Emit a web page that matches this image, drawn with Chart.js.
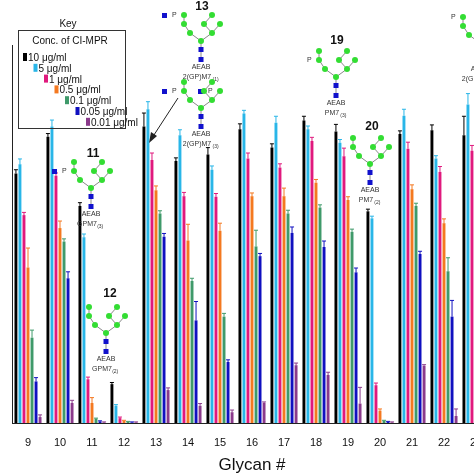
<!DOCTYPE html>
<html><head><meta charset="utf-8">
<script src="https://cdn.jsdelivr.net/npm/chart.js@4"></script>
<style>html,body{margin:0;padding:0;overflow:hidden;background:#fff}#w{width:492px;height:474px;position:relative}</style>
</head><body><div id="w"><canvas id="c"></canvas></div>
<script>
const categories = ['9','10','11','12','13','14','15','16','17','18','19','20','21','22','23'];
const seriesNames = ['10 μg/ml','5 μg/ml','1 μg/ml','0.5 μg/ml','0.1 μg/ml','0.05 μg/ml','0.01 μg/ml'];
const colors = ['#000000','#29b6e8','#e0197d','#f47920','#3f9a6a','#1010c0','#8b3a8b'];
const s10   = [4.62,5.30,4.02,0.72,5.49,4.85,4.97,5.44,5.10,5.60,5.40,3.92,5.35,5.42,5.33];
const s5    = [4.79,5.49,3.44,0.32,5.81,5.33,4.69,5.73,5.56,5.44,5.19,3.79,5.69,4.90,5.90];
const s1    = [3.85,4.58,0.81,0.09,4.87,4.20,4.19,4.90,4.73,5.22,4.94,0.70,5.08,4.65,5.04];
const s05   = [2.88,3.61,0.37,0.04,4.31,3.38,3.56,4.20,4.20,4.45,4.13,0.23,4.33,3.70,4.40];
const s01   = [1.58,3.36,0.08,0.02,3.88,2.63,1.97,3.27,3.88,3.99,3.54,0.04,4.02,2.81,3.90];
const s005  = [0.77,2.68,0.03,0.01,3.45,1.90,1.13,3.09,3.52,3.26,2.79,0.02,3.13,1.97,3.30];
const s001  = [0.11,0.37,0.01,0.01,0.61,0.32,0.20,0.37,1.07,0.89,0.36,0.01,1.06,0.13,0.90];
const e10   = [0.07,0.06,0.06,0.03,0.25,0.06,0.13,0.10,0.07,0.08,0.13,0.04,0.06,0.10,0.35];
const e5    = [0.10,0.12,0.06,0.02,0.14,0.10,0.07,0.06,0.12,0.06,0.06,0.04,0.12,0.05,0.20];
const e1    = [0.05,0.05,0.04,0.02,0.13,0.07,0.06,0.10,0.07,0.07,0.15,0.04,0.12,0.10,0.10];
const e05   = [0.36,0.13,0.10,0.01,0.08,0.30,0.14,0.06,0.15,0.06,0.06,0.03,0.08,0.08,0.10];
const e01   = [0.14,0.05,0.01,0.01,0.05,0.05,0.06,0.30,0.06,0.05,0.05,0.01,0.05,0.25,0.10];
const e005  = [0.07,0.12,0.01,0.01,0.06,0.35,0.04,0.05,0.11,0.11,0.08,0.01,0.05,0.30,0.10];
const e001  = [0.04,0.05,0.01,0.01,0.04,0.04,0.04,0.02,0.04,0.05,0.30,0.01,0.02,0.13,0.05];
const values = [s10,s5,s1,s05,s01,s005,s001];
const errors = [e10,e5,e1,e05,e01,e005,e001];

const errPlugin = {id:'err', afterDatasetsDraw(ch){
  const ctx=ch.ctx; ctx.save(); ctx.lineWidth=1;
  ch.data.datasets.forEach((ds,i)=>{
    const m=ch.getDatasetMeta(i); const ys=ch.scales.y;
    m.data.forEach((b,j)=>{
      const top=ys.getPixelForValue(ds.data[j]+errors[i][j]);
      ctx.strokeStyle=ds.backgroundColor;
      ctx.beginPath(); ctx.moveTo(b.x,b.y); ctx.lineTo(b.x,top);
      ctx.moveTo(b.x-2,top); ctx.lineTo(b.x+2,top); ctx.stroke();
    });
  });
  ctx.restore();
}};

function glycan(ctx,cx,y,opt){
  const G='#33dd33',B='#1111cc';
  const circ=[[cx,y+28],[cx-11,y+20],[cx-17,y+11],[cx-17,y+2],[cx+11,y+20],[cx+3,y+11],[cx+19,y+11],[cx+11,y+2]];
  const edges=[[0,1],[1,2],[2,3],[0,4],[4,5],[4,6],[5,7]];
  ctx.strokeStyle='#888';ctx.lineWidth=1;
  ctx.beginPath();ctx.moveTo(cx,y+28);ctx.lineTo(cx,y+46);ctx.stroke();
  edges.forEach(e=>{ctx.beginPath();ctx.moveTo(...circ[e[0]]);ctx.lineTo(...circ[e[1]]);ctx.stroke();});
  (opt.p||[]).forEach(k=>{const p=circ[k];ctx.fillStyle='#333';ctx.font='7px Arial';ctx.fillText('P',p[0]-12,p[1]+2);
    if(opt.gp){ctx.fillStyle=B;ctx.fillRect(p[0]-22,p[1]-2,5,5);}});
  ctx.fillStyle=G; circ.forEach(p=>{ctx.beginPath();ctx.arc(p[0],p[1],3,0,7);ctx.fill();});
  ctx.fillStyle=B; ctx.fillRect(cx-2.5,y+34,5,5); ctx.fillRect(cx-2.5,y+44,5,5);
  ctx.fillStyle='#333';ctx.font='7px Arial';ctx.textAlign='center';
  ctx.fillText('AEAB',cx,y+56); ctx.fillText(opt.t,cx-4,y+66);
  ctx.font='5px Arial';ctx.fillText(opt.sub,cx+opt.t.length*1.8+2,y+68);ctx.textAlign='left';
}

const annoPlugin={id:'anno',afterDraw(ch){
  const ctx=ch.ctx; ctx.save();
  ctx.strokeStyle='#333';ctx.lineWidth=1;ctx.strokeRect(18.5,30.5,107,98);
  ctx.fillStyle='#111';ctx.font='10px Arial';ctx.textAlign='center';
  ctx.fillText('Key',68,27);ctx.fillText('Conc. of CI-MPR',70,44);ctx.textAlign='left';
  seriesNames.forEach((n,i)=>{const x=23+i*10.5,y=52+i*10.8;ctx.fillStyle=colors[i];ctx.fillRect(x,y+1,4,8);
    ctx.fillStyle='#111';ctx.fillText(n,x+5,y+9);});
  ctx.font='bold 12px Arial';ctx.fillStyle='#111';ctx.textAlign='center';
  ctx.fillText('13',202,10);ctx.fillText('11',93,157);ctx.fillText('12',110,297);ctx.fillText('19',337,44);ctx.fillText('20',372,130);
  ctx.textAlign='left';
  glycan(ctx,201,13,{t:'2(GP)M7',sub:'(1)',p:[3],gp:true});
  glycan(ctx,201,80,{t:'2(GP)M7',sub:'(3)',p:[2,6],gp:true});
  glycan(ctx,91,160,{t:'GPM7',sub:'(3)',p:[2],gp:true});
  glycan(ctx,106,305,{t:'GPM7',sub:'(2)',p:[],gp:false});
  glycan(ctx,336,49,{t:'PM7',sub:'(3)',p:[2],gp:false});
  glycan(ctx,370,136,{t:'PM7',sub:'(2)',p:[],gp:false});
  glycan(ctx,480,15,{t:'2(GP)M7',sub:'',p:[3],gp:false});
  ctx.strokeStyle='#222';ctx.beginPath();ctx.moveTo(178,98);ctx.lineTo(152,138);ctx.stroke();
  ctx.fillStyle='#222';ctx.beginPath();ctx.moveTo(149,143);ctx.lineTo(151,132);ctx.lineTo(157,136);ctx.fill();
  ctx.restore();
}};

new Chart(document.getElementById('c'),{
  type:'bar',
  data:{labels:categories,datasets:values.map((v,i)=>({label:seriesNames[i],data:v,backgroundColor:colors[i],
    categoryPercentage:0.88,barPercentage:0.72}))},
  options:{responsive:true,maintainAspectRatio:false,animation:false,
    layout:{padding:{left:4,top:45,right:0,bottom:0}},
    plugins:{legend:{display:false},tooltip:{enabled:false}},
    scales:{
      x:{grid:{display:false},border:{color:'#222'},ticks:{color:'#111',font:{size:11,family:'Arial',lineHeight:1},padding:6,maxRotation:0},
        title:{display:true,text:'Glycan #',color:'#111',font:{size:17,family:'Arial',lineHeight:1},padding:{top:3,bottom:0}}},
      y:{min:0,max:7,grid:{display:false},border:{color:'#222'},ticks:{display:false,stepSize:1}}
    }},
  plugins:[errPlugin,annoPlugin]
});
</script></body></html>
